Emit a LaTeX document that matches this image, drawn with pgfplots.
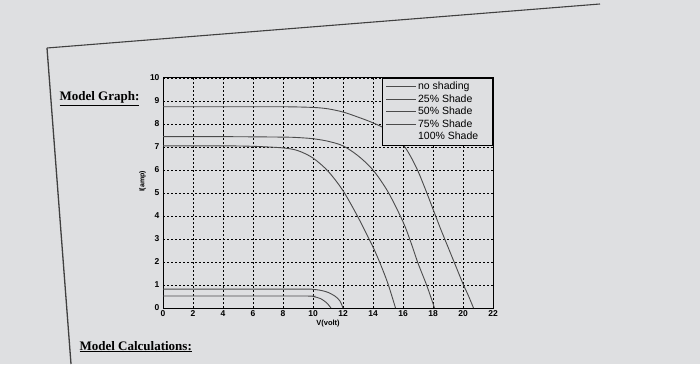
\documentclass[border=0pt]{standalone}
\usepackage{fontspec}
\setmainfont{Liberation Sans}
\newfontfamily\serifbold{Liberation Serif}
\usepackage{pgfplots}
\pgfplotsset{compat=1.18}
\definecolor{paper}{RGB}{222,223,225}
\definecolor{curve}{RGB}{75,75,75}
\begin{document}
\begin{tikzpicture}[x=1pt,y=1pt]
\useasboundingbox (0,0) rectangle (700,364);
\fill[paper] (0,0) rectangle (700,364);
\draw[black!75, line width=1.3pt] (47,316) -- (71,0);
\draw[black!75, line width=1.1pt] (47,316) -- (600,360);
\node[anchor=base west, font=\serifbold\bfseries\fontsize{13}{15}\selectfont] at (56,263) {\underline{Model Graph:}};
\node[anchor=base west, font=\serifbold\bfseries\fontsize{13}{15}\selectfont] at (76,14) {\underline{Model Calculations:}};
\begin{axis}[
  at={(163pt,56pt)}, anchor=south west,
  scale only axis, width=330pt, height=230pt,
  xmin=0, xmax=22, ymin=0, ymax=10,
  xtick={0,2,...,22}, ytick={0,1,...,10},
  grid=major,
  major grid style={black, line width=0.9pt, dash pattern=on 2pt off 2pt},
  axis line style={black, line width=1pt},
  tick align=inside, major tick length=2pt,
  tick style={black},
  /pgf/number format/assume math mode=true,
  tick label style={font=\bfseries\fontsize{8.5}{10}\selectfont},
  xticklabel style={yshift=1pt},
  xlabel={V(volt)}, ylabel={I(amp)},
  xlabel style={font=\bfseries\fontsize{7.5}{9}\selectfont, at={(axis description cs:0.5,-0.068)}, anchor=center},
  ylabel style={font=\bfseries\fontsize{7}{8}\selectfont, at={(axis description cs:-0.062,0.55)}, anchor=center},
  legend style={at={(1,1)}, anchor=north east, draw=black, line width=0.8pt, fill=paper,
    font=\fontsize{10.5}{12}\selectfont, inner xsep=3pt, inner ysep=2pt, row sep=0.5pt,
    nodes={inner sep=1.5pt}},
  legend cell align=left,
  legend image code/.code={\draw[#1] (0pt,0pt) -- (30pt,0pt);},
]
\addplot[curve, line width=0.9pt, smooth] coordinates {
 (0,8.75) (4,8.75) (8,8.75) (10,8.72) (11,8.66) (12,8.52) (13,8.3) (14,8.05) (15,7.72)
 (16,7.1) (16.5,6.6) (17,5.95) (17.5,5.15) (18,4.3) (18.5,3.45) (19,2.65) (19.5,1.85) (20,1.05) (20.35,0.55) (20.7,0)};
\addlegendentry{\makebox[70pt][l]{no shading}}
\addplot[curve, line width=0.9pt, smooth] coordinates {
 (0,7.45) (4,7.45) (8,7.43) (9,7.41) (10,7.36) (11,7.25) (12,7.05) (13,6.62) (14,6.0)
 (15,5.05) (16,3.75) (16.5,2.9) (17,1.95) (17.6,0.95) (18.1,0)};
\addlegendentry{\makebox[70pt][l]{25\% Shade}}
\addplot[curve, line width=0.9pt, smooth] coordinates {
 (0,7.05) (4,7.05) (6,7.03) (8,6.96) (9,6.84) (10,6.52) (11,5.95) (12,5.1) (13,3.95)
 (14,2.65) (14.5,1.9) (15,1.05) (15.5,0)};
\addlegendentry{\makebox[70pt][l]{50\% Shade}}
\addplot[curve, line width=0.9pt, smooth] coordinates {
 (0,0.82) (5,0.82) (9.5,0.82) (10,0.81) (10.5,0.77) (11,0.68) (11.5,0.5) (11.8,0.3) (12,0)};
\addlegendentry{\makebox[70pt][l]{75\% Shade}}
\addplot[curve, line width=0.9pt, smooth, forget plot] coordinates {
 (0,0.52) (5,0.52) (9.6,0.52) (10,0.5) (10.5,0.41) (10.9,0.23) (11.2,0)};
\addlegendimage{color=paper}
\addlegendentry{\makebox[70pt][l]{100\% Shade}}
\end{axis}
\end{tikzpicture}
\end{document}
